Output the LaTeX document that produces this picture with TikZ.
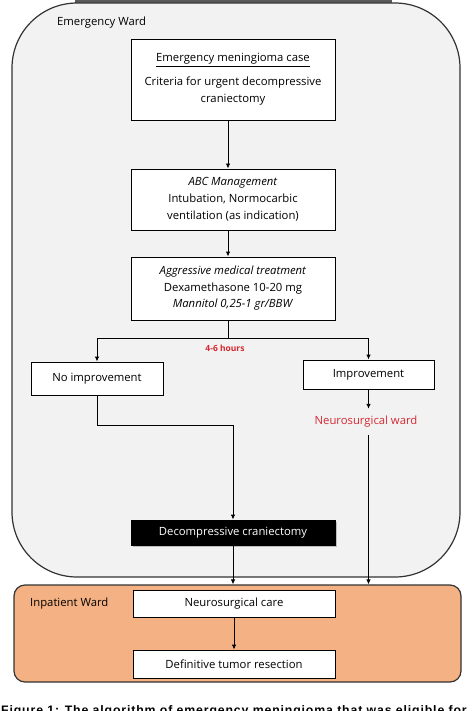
\documentclass[tikz,border=0pt]{standalone}
\usepackage{fontspec}
\setmainfont{Open Sans}
\newfontfamily\captionfont[LetterSpace=7]{Liberation Sans}
\usepackage{tikz}
\usetikzlibrary{positioning, arrows.meta, shadows}
\definecolor{wardGray}{RGB}{242,242,242}
\definecolor{wardPeach}{RGB}{244,177,131}
\definecolor{noteRed}{RGB}{214,40,50}
\tikzstyle{wardArea}=[draw=black!80, line width=1.2pt, inner sep=0pt]
\tikzstyle{actionNode}=[draw, fill=white, line width=0.9pt, align=center, inner sep=0pt, font=\fontsize{11.3}{17}\selectfont]
\tikzstyle{noteNode}=[text=noteRed, inner sep=2pt]
\tikzstyle{flowArrow}=[-{Latex[length=5pt,width=4.5pt]}, line width=0.9pt]

\begin{document}
\begin{tikzpicture}[x=1pt, y=-1pt]

    \useasboundingbox (0,0) rectangle (474,711);

    % wards

    \fill[black!65] (75,0) rectangle (392,3);
    \node[wardArea, fill=wardGray, rounded corners=65pt, minimum width=448pt, minimum height=574pt] (emWard) at (236,290) {};
    \node[wardArea, fill=wardPeach, rounded corners=11pt, minimum width=447pt, minimum height=97pt] (inWard) at (237.5,633.5) {};

    \node[anchor=west, inner sep=0pt, font=\fontsize{11.3}{13}\selectfont] (emLabel) at (57,23) {Emergency Ward};
    \node[anchor=west, inner sep=0pt, font=\fontsize{11.3}{13}\selectfont] (inLabel) at (30,604) {Inpatient Ward};

    % nodes

    \node[actionNode, minimum width=204pt, minimum height=81pt] (emCase) at (233,79.5) {\underline{Emergency meningioma case}\\[7pt] Criteria for urgent decompressive\\ craniectomy};
    \node[actionNode, minimum width=204pt, minimum height=61pt] (abc) at (233,199.5) {\textit{ABC Management}\\ Intubation, Normocarbic\\ ventilation (as indication)};
    \node[actionNode, minimum width=204pt, minimum height=63pt] (treat) at (233,288.5) {\textit{Aggressive medical treatment}\\[-0.5pt] Dexamethasone 10-20 mg\\[-0.5pt] \textit{Mannitol 0,25-1 gr/BBW}};

    \node[actionNode, minimum width=132pt, minimum height=33pt] (noImp) at (97,378.5) {No improvement};
    \node[actionNode, minimum width=131pt, minimum height=29pt] (imp) at (368.5,374.5) {Improvement};

    \node[noteNode, font=\fontsize{8.5}{10}\bfseries\selectfont] (hours) at (225,348) {4-6 hours};
    \node[noteNode, font=\fontsize{11.3}{13}\selectfont, inner sep=0pt, minimum height=26pt] (neuroWard) at (366,422) {Neurosurgical ward};

    \node[actionNode, fill=black, text=white, minimum width=204pt, minimum height=25pt, drop shadow={shadow xshift=1.5pt, shadow yshift=-1.5pt, fill=black!45}] (decomp) at (233,532.5) {Decompressive craniectomy};

    \node[actionNode, minimum width=202pt, minimum height=27pt] (care) at (234,603.5) {Neurosurgical care};
    \node[actionNode, minimum width=202pt, minimum height=28pt] (resect) at (234,664) {Definitive tumor resection};

    \coordinate (fork) at (228,338);
    \coordinate (bend) at (233,425);

    \node[anchor=north west, inner sep=0pt, font=\captionfont\fontsize{12.3}{14}\bfseries\selectfont] (caption) at (1,705.5) {Figure 1: The algorithm of emergency meningioma that was eligible for};

    % transition

    \draw[flowArrow] (emCase.south -| fork) -- (abc.north -| fork);
    \draw[flowArrow] (abc.south -| fork) -- (treat.north -| fork);
    \draw[line width=0.9pt] (treat.south -| fork) -- (fork);
    \draw[flowArrow] (fork) -| (noImp.north);
    \draw[flowArrow] (fork) -| (imp.north);
    \draw[flowArrow] (imp.south) -- (neuroWard.north -| imp.south);
    \draw[flowArrow] (neuroWard.south -| imp.south) -- (inWard.north -| imp.south);
    \draw[line width=0.9pt] (noImp.south) |- (bend);
    \draw[flowArrow] (bend) -- (decomp.north);
    \draw[flowArrow] (decomp.south) -- (decomp.south |- inWard.north);
    \draw[flowArrow] (care.south) -- (resect.north);

\end{tikzpicture}
\end{document}
